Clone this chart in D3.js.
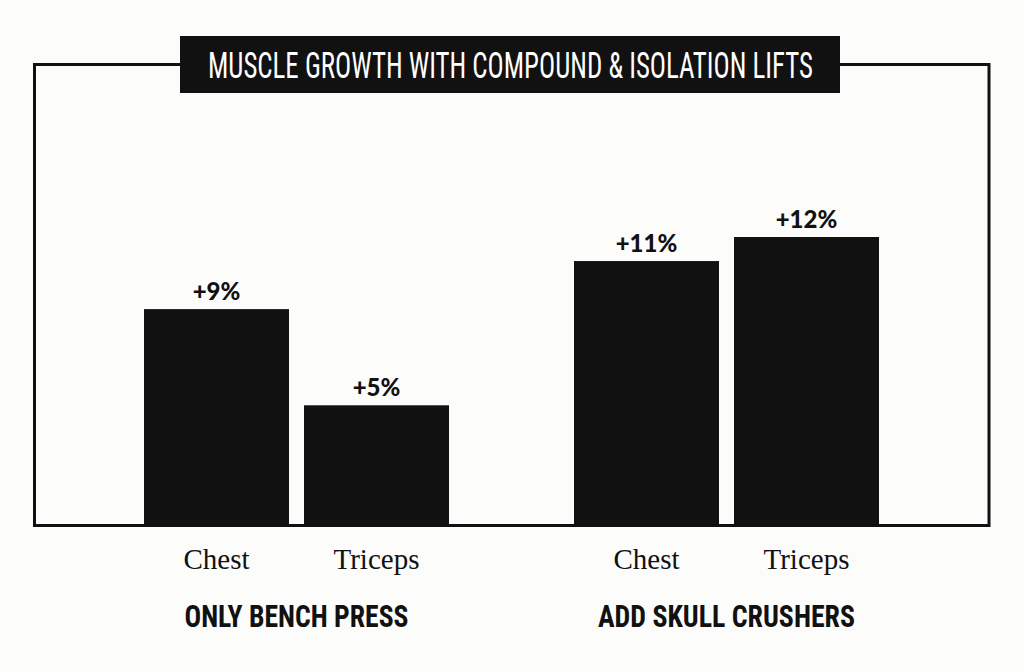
<!DOCTYPE html>
<html>
<head>
<meta charset="utf-8">
<script src="https://cdn.jsdelivr.net/npm/d3@7"></script>
<style>
  html, body { margin: 0; padding: 0; background: #fcfcfb; }
  svg { display: block; }
</style>
</head>
<body>
<svg id="chart" width="1024" height="672"></svg>
<script>
// ---- data ----
const title = "MUSCLE GROWTH WITH COMPOUND & ISOLATION LIFTS";
const groups = ["ONLY BENCH PRESS", "ADD SKULL CRUSHERS"];
const categories = ["Chest", "Triceps"];
const benchPressValues = [9, 5];
const skullCrusherValues = [11, 12];
const valueLabels = [["+9%", "+5%"], ["+11%", "+12%"]];

const seriesByGroup = [benchPressValues, skullCrusherValues];

// ---- layout ----
const W = 1024, H = 672;
const frame = { left: 34.5, top: 64.5, right: 989, bottom: 525.5 };
const svg = d3.select("#chart");

svg.append("rect").attr("width", W).attr("height", H).attr("fill", "#fcfcfb");

// scales
const x0 = d3.scaleBand().domain(groups).range([144, 879]).paddingInner(1 - 305 / 430).paddingOuter(0);
const x1 = d3.scaleBand().domain(categories).range([0, x0.bandwidth()]).paddingInner(0.09375).paddingOuter(0);
const y = d3.scaleLinear().domain([0, 12]).range([frame.bottom, 237]);

// frame
svg.append("path")
  .attr("d", `M${frame.left},${frame.top} H${frame.right} V${frame.bottom} H${frame.left} Z`)
  .attr("fill", "none")
  .attr("stroke", "#111")
  .attr("stroke-width", 3);

// title box
const titleBox = { x: 180, y: 36, w: 660, h: 57 };
svg.append("rect")
  .attr("x", titleBox.x).attr("y", titleBox.y)
  .attr("width", titleBox.w).attr("height", titleBox.h)
  .attr("fill", "#111");
svg.append("text")
  .attr("x", 208).attr("y", 78)
  .attr("textLength", 605).attr("lengthAdjust", "spacingAndGlyphs")
  .attr("fill", "#fff")
  .style("font-family", "'Liberation Sans Narrow', 'Roboto Condensed', 'Liberation Sans', sans-serif")
  .style("font-size", "36px")
  .text(title);

// bars
const gGroups = svg.selectAll("g.group")
  .data(groups.map((g, i) => ({ group: g, values: seriesByGroup[i], labels: valueLabels[i] })))
  .join("g")
  .attr("class", "group")
  .attr("transform", d => `translate(${x0(d.group)},0)`);

const barData = d => categories.map((c, j) => ({ cat: c, value: d.values[j], label: d.labels[j] }));

gGroups.selectAll("rect.bar")
  .data(barData)
  .join("rect")
  .attr("class", "bar")
  .attr("x", d => x1(d.cat))
  .attr("width", x1.bandwidth())
  .attr("y", d => y(d.value))
  .attr("height", d => y(0) - y(d.value))
  .attr("fill", "#111");

// value labels
gGroups.selectAll("text.value")
  .data(barData)
  .join("text")
  .attr("class", "value")
  .attr("x", d => x1(d.cat) + x1.bandwidth() / 2)
  .attr("y", d => y(d.value) - 9)
  .attr("text-anchor", "middle")
  .attr("fill", "#111")
  .style("font-family", "Lato, 'Noto Sans', sans-serif")
  .style("font-weight", "900")
  .style("font-size", "24px")
  .text(d => d.label);

// category labels
gGroups.selectAll("text.cat")
  .data(barData)
  .join("text")
  .attr("class", "cat")
  .attr("x", d => x1(d.cat) + x1.bandwidth() / 2)
  .attr("y", 569)
  .attr("text-anchor", "middle")
  .attr("fill", "#111")
  .style("font-family", "'Liberation Serif', 'DejaVu Serif', serif")
  .style("font-size", "29px")
  .text(d => d.cat);

// group labels
gGroups.append("text")
  .attr("class", "grouplabel")
  .attr("x", x0.bandwidth() / 2)
  .attr("y", 627)
  .attr("text-anchor", "middle")
  .attr("textLength", (d, i) => i === 0 ? 224 : 257)
  .attr("lengthAdjust", "spacingAndGlyphs")
  .attr("fill", "#111")
  .style("font-family", "'Liberation Sans Narrow', 'Roboto Condensed', 'Liberation Sans', sans-serif")
  .style("font-weight", "700")
  .style("font-size", "31px")
  .text(d => d.group);
</script>
</body>
</html>
